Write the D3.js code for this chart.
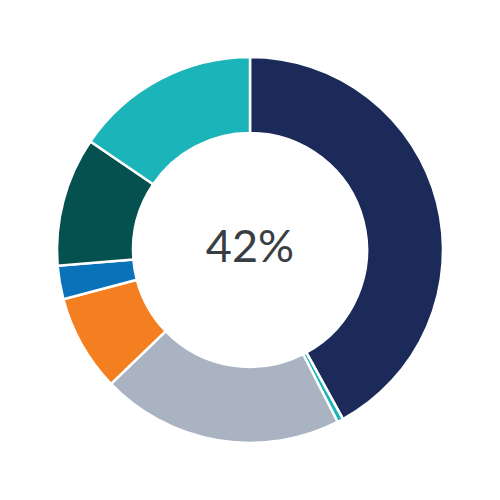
<!DOCTYPE html>
<html>
<head>
<meta charset="utf-8">
<script src="https://cdn.jsdelivr.net/npm/d3@7"></script>
<style>
  html, body { margin: 0; padding: 0; background: #fff; }
</style>
</head>
<body>
<div id="chart"></div>
<script>
// segment data, clockwise from 12 o'clock
var labels = ['A', 'B', 'C', 'D', 'E', 'F', 'G'];
var values = [42, 0.5, 20.3, 8.1, 2.8, 10.8, 15.5];
var colors = ['#1c2a5a', '#1ab4b9', '#a9b3c2', '#f47f20', '#0a72b8', '#04514f', '#1ab4b9'];
var centerLabel = '42%';

var width = 500,
    height = 500,
    outerR = 193,
    innerR = 117;

var svg = d3.select('#chart')
    .append('svg')
    .attr('width', width)
    .attr('height', height);

var g = svg.append('g')
    .attr('transform', 'translate(' + width / 2 + ',' + height / 2 + ')');

var pie = d3.pie()
    .sort(null)
    .value(function(d){ return d.value; });

var arc = d3.arc()
    .innerRadius(innerR)
    .outerRadius(outerR);

var data = labels.map(function(l, i){
    return { label: l, value: values[i], color: colors[i] };
});

g.selectAll('path')
    .data(pie(data))
    .enter()
    .append('path')
    .attr('d', arc)
    .attr('fill', function(d){ return d.data.color; })
    .attr('stroke', '#fff')
    .attr('stroke-width', 2.5)
    .attr('stroke-linejoin', 'miter');

g.append('text')
    .attr('x', 0)
    .attr('y', 12)
    .attr('text-anchor', 'middle')
    .style('font-family', 'Lato, sans-serif')
    .style('font-weight', 400)
    .style('font-size', '45px')
    .style('fill', '#393e43')
    .text(centerLabel);
</script>
</body>
</html>
